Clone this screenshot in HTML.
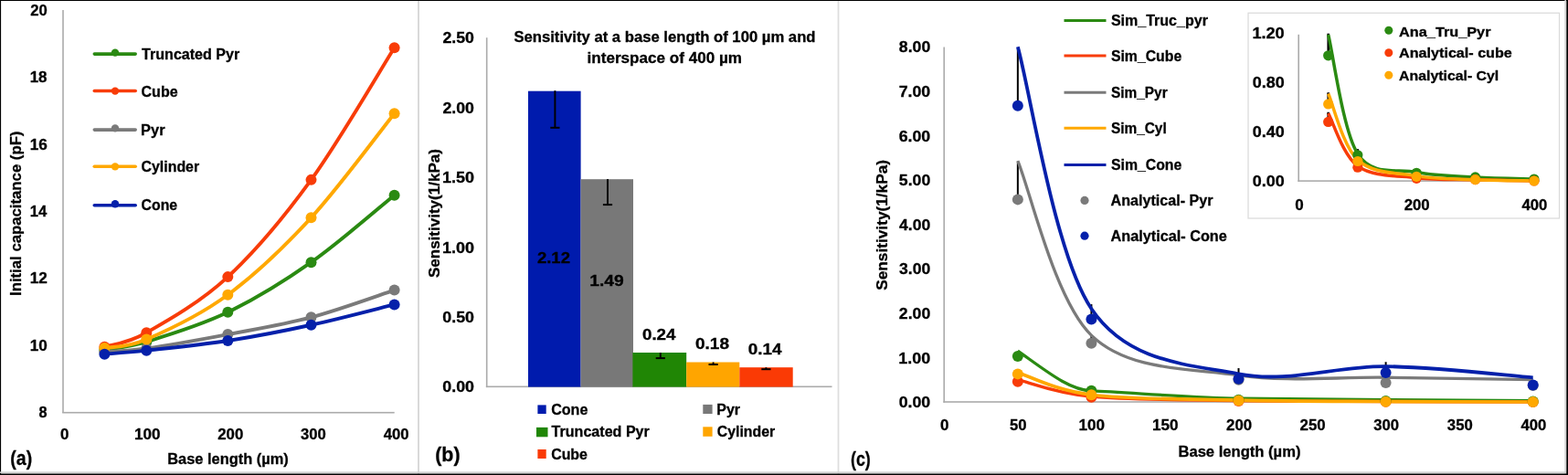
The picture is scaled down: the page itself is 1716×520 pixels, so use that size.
<!DOCTYPE html>
<html><head><meta charset="utf-8"><title>Figure</title>
<style>html,body{margin:0;padding:0;background:#fff;overflow:hidden;}svg{display:block;}
text{font-family:"Liberation Sans", sans-serif;stroke:#000;stroke-width:0.3px;}</style></head>
<body><svg width="1716" height="520" viewBox="0 0 1716 520">
<rect width="1716" height="520" fill="#fff"/>
<rect x="68.20" y="11.00" width="1.60" height="441.00" fill="#ABABAB"/>
<rect x="68.20" y="450.90" width="363.50" height="1.60" fill="#ABABAB"/>
<text x="42.56" y="457.20" font-size="16.00" font-weight="bold" fill="#000" textLength="9.06" lengthAdjust="spacingAndGlyphs">8</text>
<text x="32.67" y="383.80" font-size="16.00" font-weight="bold" fill="#000" textLength="19.08" lengthAdjust="spacingAndGlyphs">10</text>
<text x="32.67" y="310.40" font-size="16.00" font-weight="bold" fill="#000" textLength="19.08" lengthAdjust="spacingAndGlyphs">12</text>
<text x="32.70" y="237.00" font-size="16.00" font-weight="bold" fill="#000" textLength="18.54" lengthAdjust="spacingAndGlyphs">14</text>
<text x="32.67" y="163.60" font-size="16.00" font-weight="bold" fill="#000" textLength="19.08" lengthAdjust="spacingAndGlyphs">16</text>
<text x="32.68" y="90.20" font-size="16.00" font-weight="bold" fill="#000" textLength="18.90" lengthAdjust="spacingAndGlyphs">18</text>
<text x="33.20" y="16.80" font-size="16.00" font-weight="bold" fill="#000" textLength="18.54" lengthAdjust="spacingAndGlyphs">20</text>
<text x="66.00" y="481.10" font-size="16.00" font-weight="bold" fill="#000" textLength="9.44" lengthAdjust="spacingAndGlyphs">0</text>
<text x="147.00" y="481.10" font-size="16.00" font-weight="bold" fill="#000" textLength="28.53" lengthAdjust="spacingAndGlyphs">100</text>
<text x="238.22" y="481.10" font-size="16.00" font-weight="bold" fill="#000" textLength="28.00" lengthAdjust="spacingAndGlyphs">200</text>
<text x="329.09" y="481.10" font-size="16.00" font-weight="bold" fill="#000" textLength="27.82" lengthAdjust="spacingAndGlyphs">300</text>
<text x="419.79" y="481.10" font-size="16.00" font-weight="bold" fill="#000" textLength="27.82" lengthAdjust="spacingAndGlyphs">400</text>
<text x="183.25" y="507.90" font-size="16.00" font-weight="bold" fill="#000" textLength="132.48" lengthAdjust="spacingAndGlyphs">Base length (µm)</text>
<text transform="translate(22.70,323.97) rotate(-90)" font-size="16.00" font-weight="bold" textLength="180.40" lengthAdjust="spacingAndGlyphs">Initial capacitance (pF)</text>
<text x="11.32" y="508.60" font-size="22.00" font-weight="bold" fill="#000" textLength="23.90" lengthAdjust="spacingAndGlyphs">(a)</text>
<path d="M114.40,382.94 C122.05,381.47 137.82,380.98 160.30,374.13 C182.78,367.28 219.27,356.33 249.30,341.83 C279.33,327.34 310.12,308.50 340.50,287.15 C370.88,265.80 416.42,225.98 431.60,213.75" fill="none" stroke="#2A8A12" stroke-width="3.9" stroke-linejoin="round"/>
<circle cx="114.40" cy="382.94" r="6.00" fill="#2A8A12"/>
<circle cx="160.30" cy="374.13" r="6.00" fill="#2A8A12"/>
<circle cx="249.30" cy="341.83" r="6.00" fill="#2A8A12"/>
<circle cx="340.50" cy="287.15" r="6.00" fill="#2A8A12"/>
<circle cx="431.60" cy="213.75" r="6.00" fill="#2A8A12"/>
<path d="M114.40,379.63 C122.05,377.07 137.82,376.97 160.30,364.22 C182.78,351.47 219.27,331.01 249.30,303.12 C279.33,275.22 310.12,238.68 340.50,196.87 C370.88,155.06 416.42,76.37 431.60,52.27" fill="none" stroke="#F83C08" stroke-width="3.9" stroke-linejoin="round"/>
<circle cx="114.40" cy="379.63" r="6.00" fill="#F83C08"/>
<circle cx="160.30" cy="364.22" r="6.00" fill="#F83C08"/>
<circle cx="249.30" cy="303.12" r="6.00" fill="#F83C08"/>
<circle cx="340.50" cy="196.87" r="6.00" fill="#F83C08"/>
<circle cx="431.60" cy="52.27" r="6.00" fill="#F83C08"/>
<path d="M114.40,385.14 C122.05,384.53 137.82,384.65 160.30,381.47 C182.78,378.29 219.27,371.74 249.30,366.06 C279.33,360.37 310.12,355.41 340.50,347.34 C370.88,339.26 416.42,322.57 431.60,317.61" fill="none" stroke="#7A7A7A" stroke-width="3.9" stroke-linejoin="round"/>
<circle cx="114.40" cy="385.14" r="6.00" fill="#7A7A7A"/>
<circle cx="160.30" cy="381.47" r="6.00" fill="#7A7A7A"/>
<circle cx="249.30" cy="366.06" r="6.00" fill="#7A7A7A"/>
<circle cx="340.50" cy="347.34" r="6.00" fill="#7A7A7A"/>
<circle cx="431.60" cy="317.61" r="6.00" fill="#7A7A7A"/>
<path d="M114.40,381.10 C122.05,379.51 137.82,381.29 160.30,371.56 C182.78,361.84 219.27,344.95 249.30,322.75 C279.33,300.55 310.12,271.43 340.50,238.34 C370.88,205.25 416.42,143.23 431.60,124.20" fill="none" stroke="#FFA800" stroke-width="3.9" stroke-linejoin="round"/>
<circle cx="114.40" cy="381.10" r="6.00" fill="#FFA800"/>
<circle cx="160.30" cy="371.56" r="6.00" fill="#FFA800"/>
<circle cx="249.30" cy="322.75" r="6.00" fill="#FFA800"/>
<circle cx="340.50" cy="238.34" r="6.00" fill="#FFA800"/>
<circle cx="431.60" cy="124.20" r="6.00" fill="#FFA800"/>
<path d="M114.40,387.71 C122.05,387.04 137.82,386.12 160.30,383.67 C182.78,381.23 219.27,377.68 249.30,373.03 C279.33,368.38 310.12,362.39 340.50,355.78 C370.88,349.17 416.42,337.12 431.60,333.39" fill="none" stroke="#0520AA" stroke-width="3.9" stroke-linejoin="round"/>
<circle cx="114.40" cy="387.71" r="6.00" fill="#0520AA"/>
<circle cx="160.30" cy="383.67" r="6.00" fill="#0520AA"/>
<circle cx="249.30" cy="373.03" r="6.00" fill="#0520AA"/>
<circle cx="340.50" cy="355.78" r="6.00" fill="#0520AA"/>
<circle cx="431.60" cy="333.39" r="6.00" fill="#0520AA"/>
<line x1="103.30" y1="59.10" x2="148.20" y2="59.10" stroke="#2A8A12" stroke-width="3.60" stroke-linecap="round"/>
<circle cx="126.00" cy="57.60" r="4.20" fill="#2A8A12"/>
<text x="155.04" y="65.10" font-size="16.00" font-weight="bold" fill="#000" textLength="107.26" lengthAdjust="spacingAndGlyphs">Truncated Pyr</text>
<line x1="103.30" y1="99.50" x2="148.20" y2="99.50" stroke="#F83C08" stroke-width="3.60" stroke-linecap="round"/>
<circle cx="126.00" cy="99.60" r="4.20" fill="#F83C08"/>
<text x="154.56" y="105.80" font-size="16.00" font-weight="bold" fill="#000" textLength="40.08" lengthAdjust="spacingAndGlyphs">Cube</text>
<line x1="103.30" y1="142.10" x2="148.20" y2="142.10" stroke="#7A7A7A" stroke-width="3.60" stroke-linecap="round"/>
<circle cx="126.00" cy="140.40" r="4.20" fill="#7A7A7A"/>
<text x="154.05" y="147.50" font-size="16.00" font-weight="bold" fill="#000" textLength="26.52" lengthAdjust="spacingAndGlyphs">Pyr</text>
<line x1="103.30" y1="182.20" x2="148.20" y2="182.20" stroke="#FFA800" stroke-width="3.60" stroke-linecap="round"/>
<circle cx="126.00" cy="182.40" r="4.20" fill="#FFA800"/>
<text x="154.56" y="188.30" font-size="16.00" font-weight="bold" fill="#000" textLength="63.57" lengthAdjust="spacingAndGlyphs">Cylinder</text>
<line x1="103.30" y1="224.70" x2="148.20" y2="224.70" stroke="#0520AA" stroke-width="3.60" stroke-linecap="round"/>
<circle cx="126.00" cy="223.20" r="4.20" fill="#0520AA"/>
<text x="154.57" y="230.20" font-size="16.00" font-weight="bold" fill="#000" textLength="39.56" lengthAdjust="spacingAndGlyphs">Cone</text>
<rect x="457.00" y="0.00" width="2.00" height="520.00" fill="#D9D9D9"/>
<rect x="916.60" y="0.00" width="1.80" height="520.00" fill="#DEDEDE"/>
<rect x="531.90" y="41.20" width="1.60" height="382.90" fill="#ABABAB"/>
<rect x="531.90" y="422.50" width="378.60" height="1.60" fill="#ABABAB"/>
<text x="484.29" y="429.30" font-size="16.00" font-weight="bold" fill="#000" textLength="34.66" lengthAdjust="spacingAndGlyphs">0.00</text>
<text x="484.29" y="352.90" font-size="16.00" font-weight="bold" fill="#000" textLength="34.66" lengthAdjust="spacingAndGlyphs">0.50</text>
<text x="483.92" y="276.50" font-size="16.00" font-weight="bold" fill="#000" textLength="35.03" lengthAdjust="spacingAndGlyphs">1.00</text>
<text x="483.92" y="200.10" font-size="16.00" font-weight="bold" fill="#000" textLength="35.03" lengthAdjust="spacingAndGlyphs">1.50</text>
<text x="484.47" y="123.70" font-size="16.00" font-weight="bold" fill="#000" textLength="34.47" lengthAdjust="spacingAndGlyphs">2.00</text>
<text x="484.47" y="47.30" font-size="16.00" font-weight="bold" fill="#000" textLength="34.47" lengthAdjust="spacingAndGlyphs">2.50</text>
<rect x="578.00" y="99.70" width="57.60" height="323.90" fill="#001BAD"/>
<rect x="635.60" y="196.20" width="57.40" height="227.40" fill="#787878"/>
<rect x="692.40" y="386.00" width="58.80" height="37.60" fill="#208605"/>
<rect x="751.20" y="396.50" width="58.10" height="27.10" fill="#FFA500"/>
<rect x="809.30" y="402.20" width="58.40" height="21.40" fill="#FA3A05"/>
<line x1="607.40" y1="99.20" x2="607.40" y2="139.80" stroke="#000" stroke-width="1.90"/>
<line x1="602.30" y1="139.80" x2="612.50" y2="139.80" stroke="#000" stroke-width="2.00"/>
<line x1="665.00" y1="196.00" x2="665.00" y2="224.10" stroke="#000" stroke-width="1.90"/>
<line x1="659.90" y1="224.10" x2="670.10" y2="224.10" stroke="#000" stroke-width="2.00"/>
<line x1="722.80" y1="386.00" x2="722.80" y2="392.10" stroke="#000" stroke-width="1.90"/>
<line x1="717.70" y1="392.10" x2="727.90" y2="392.10" stroke="#000" stroke-width="2.00"/>
<line x1="780.60" y1="396.50" x2="780.60" y2="399.00" stroke="#000" stroke-width="1.90"/>
<line x1="775.50" y1="399.00" x2="785.70" y2="399.00" stroke="#000" stroke-width="2.00"/>
<line x1="838.40" y1="402.20" x2="838.40" y2="404.20" stroke="#000" stroke-width="1.90"/>
<line x1="833.30" y1="404.20" x2="843.50" y2="404.20" stroke="#000" stroke-width="2.00"/>
<text x="587.94" y="287.70" font-size="16.00" font-weight="bold" fill="#000" textLength="36.02" lengthAdjust="spacingAndGlyphs">2.12</text>
<text x="645.25" y="312.60" font-size="16.00" font-weight="bold" fill="#000" textLength="37.45" lengthAdjust="spacingAndGlyphs">1.49</text>
<text x="702.95" y="371.90" font-size="16.00" font-weight="bold" fill="#000" textLength="36.57" lengthAdjust="spacingAndGlyphs">0.24</text>
<text x="760.94" y="381.70" font-size="16.00" font-weight="bold" fill="#000" textLength="37.06" lengthAdjust="spacingAndGlyphs">0.18</text>
<text x="818.85" y="387.50" font-size="16.00" font-weight="bold" fill="#000" textLength="36.67" lengthAdjust="spacingAndGlyphs">0.14</text>
<text x="562.40" y="45.60" font-size="16.00" font-weight="bold" fill="#000" textLength="330.11" lengthAdjust="spacingAndGlyphs">Sensitivity at a base length of 100 µm and</text>
<text x="642.60" y="69.40" font-size="16.00" font-weight="bold" fill="#000" textLength="169.37" lengthAdjust="spacingAndGlyphs">interspace of 400 µm</text>
<text transform="translate(480.60,304.11) rotate(-90)" font-size="16.50" font-weight="bold" textLength="141.07" lengthAdjust="spacingAndGlyphs">Sensitivity(1/kPa)</text>
<rect x="588.40" y="443.40" width="9.30" height="9.60" fill="#001BAD"/>
<text x="603.16" y="454.00" font-size="16.00" font-weight="bold" fill="#000" textLength="40.18" lengthAdjust="spacingAndGlyphs">Cone</text>
<rect x="587.00" y="467.90" width="12.50" height="10.40" fill="#208605"/>
<text x="603.64" y="478.30" font-size="16.00" font-weight="bold" fill="#000" textLength="107.16" lengthAdjust="spacingAndGlyphs">Truncated Pyr</text>
<rect x="588.40" y="492.00" width="9.30" height="10.00" fill="#FA3A05"/>
<text x="603.16" y="502.50" font-size="16.00" font-weight="bold" fill="#000" textLength="39.77" lengthAdjust="spacingAndGlyphs">Cube</text>
<rect x="769.30" y="442.90" width="10.30" height="10.10" fill="#787878"/>
<text x="784.28" y="454.00" font-size="16.00" font-weight="bold" fill="#000" textLength="25.78" lengthAdjust="spacingAndGlyphs">Pyr</text>
<rect x="769.30" y="467.30" width="10.30" height="10.50" fill="#FFA500"/>
<text x="784.77" y="478.40" font-size="16.00" font-weight="bold" fill="#000" textLength="63.36" lengthAdjust="spacingAndGlyphs">Cylinder</text>
<text x="476.23" y="504.80" font-size="22.40" font-weight="bold" fill="#000" textLength="27.28" lengthAdjust="spacingAndGlyphs">(b)</text>
<rect x="1032.40" y="51.50" width="1.60" height="389.30" fill="#ABABAB"/>
<rect x="1032.40" y="439.20" width="647.00" height="1.60" fill="#ABABAB"/>
<text x="983.69" y="446.20" font-size="16.00" font-weight="bold" fill="#000" textLength="34.55" lengthAdjust="spacingAndGlyphs">0.00</text>
<text x="983.32" y="397.60" font-size="16.00" font-weight="bold" fill="#000" textLength="34.92" lengthAdjust="spacingAndGlyphs">1.00</text>
<text x="983.87" y="349.00" font-size="16.00" font-weight="bold" fill="#000" textLength="34.37" lengthAdjust="spacingAndGlyphs">2.00</text>
<text x="984.05" y="300.40" font-size="16.00" font-weight="bold" fill="#000" textLength="34.19" lengthAdjust="spacingAndGlyphs">3.00</text>
<text x="984.05" y="251.80" font-size="16.00" font-weight="bold" fill="#000" textLength="34.19" lengthAdjust="spacingAndGlyphs">4.00</text>
<text x="983.87" y="203.20" font-size="16.00" font-weight="bold" fill="#000" textLength="34.37" lengthAdjust="spacingAndGlyphs">5.00</text>
<text x="983.69" y="154.60" font-size="16.00" font-weight="bold" fill="#000" textLength="34.55" lengthAdjust="spacingAndGlyphs">6.00</text>
<text x="983.69" y="106.00" font-size="16.00" font-weight="bold" fill="#000" textLength="34.55" lengthAdjust="spacingAndGlyphs">7.00</text>
<text x="983.87" y="57.40" font-size="16.00" font-weight="bold" fill="#000" textLength="34.37" lengthAdjust="spacingAndGlyphs">8.00</text>
<text x="1029.05" y="471.20" font-size="16.00" font-weight="bold" fill="#000" textLength="9.44" lengthAdjust="spacingAndGlyphs">0</text>
<text x="1105.10" y="471.20" font-size="16.00" font-weight="bold" fill="#000" textLength="18.54" lengthAdjust="spacingAndGlyphs">50</text>
<text x="1180.45" y="471.20" font-size="16.00" font-weight="bold" fill="#000" textLength="28.53" lengthAdjust="spacingAndGlyphs">100</text>
<text x="1261.00" y="471.20" font-size="16.00" font-weight="bold" fill="#000" textLength="28.53" lengthAdjust="spacingAndGlyphs">150</text>
<text x="1342.07" y="471.20" font-size="16.00" font-weight="bold" fill="#000" textLength="28.00" lengthAdjust="spacingAndGlyphs">200</text>
<text x="1422.62" y="471.20" font-size="16.00" font-weight="bold" fill="#000" textLength="28.00" lengthAdjust="spacingAndGlyphs">250</text>
<text x="1503.34" y="471.20" font-size="16.00" font-weight="bold" fill="#000" textLength="27.82" lengthAdjust="spacingAndGlyphs">300</text>
<text x="1583.89" y="471.20" font-size="16.00" font-weight="bold" fill="#000" textLength="27.82" lengthAdjust="spacingAndGlyphs">350</text>
<text x="1664.44" y="471.20" font-size="16.00" font-weight="bold" fill="#000" textLength="27.82" lengthAdjust="spacingAndGlyphs">400</text>
<text x="1289.44" y="499.80" font-size="16.00" font-weight="bold" fill="#000" textLength="134.00" lengthAdjust="spacingAndGlyphs">Base length (µm)</text>
<text transform="translate(971.20,317.82) rotate(-90)" font-size="16.50" font-weight="bold" textLength="142.89" lengthAdjust="spacingAndGlyphs">Sensitivity(1/kPa)</text>
<text x="931.01" y="509.80" font-size="22.00" font-weight="bold" fill="#000" textLength="21.82" lengthAdjust="spacingAndGlyphs">(c)</text>
<line x1="1113.85" y1="117.78" x2="1113.85" y2="53.63" stroke="#000" stroke-width="2.00"/>
<line x1="1113.85" y1="218.38" x2="1113.85" y2="176.59" stroke="#000" stroke-width="2.00"/>
<line x1="1194.40" y1="349.60" x2="1194.40" y2="333.08" stroke="#000" stroke-width="2.00"/>
<line x1="1194.40" y1="375.85" x2="1194.40" y2="367.10" stroke="#000" stroke-width="2.00"/>
<line x1="1355.50" y1="414.73" x2="1355.50" y2="403.06" stroke="#000" stroke-width="2.00"/>
<line x1="1516.60" y1="407.92" x2="1516.60" y2="396.26" stroke="#000" stroke-width="2.00"/>
<path d="M1113.85,384.11 C1146.07,406.95 1170.23,426.88 1194.40,427.85 C1234.67,429.45 1307.17,435.87 1355.50,436.11 C1408.66,436.36 1463.44,437.33 1516.60,437.57 C1569.76,437.81 1624.54,438.30 1677.70,438.54" fill="none" stroke="#2A8A12" stroke-width="3.3"/>
<path d="M1113.85,415.70 C1127.27,418.78 1154.12,430.36 1194.40,434.17 C1234.67,437.98 1301.80,437.65 1355.50,438.54 C1409.20,439.43 1462.90,439.27 1516.60,439.51 C1570.30,439.76 1650.85,439.92 1677.70,440.00" fill="none" stroke="#F83C08" stroke-width="3.4"/>
<path d="M1113.85,407.92 C1127.27,411.97 1154.12,427.20 1194.40,432.22 C1234.67,437.25 1301.80,436.84 1355.50,438.06 C1409.20,439.27 1462.90,439.19 1516.60,439.51 C1570.30,439.84 1650.85,439.92 1677.70,440.00" fill="none" stroke="#FFA800" stroke-width="3.7"/>
<circle cx="1113.85" cy="417.64" r="6.00" fill="#F83C08"/>
<circle cx="1194.40" cy="434.65" r="6.00" fill="#F83C08"/>
<circle cx="1355.50" cy="439.03" r="6.00" fill="#F83C08"/>
<circle cx="1516.60" cy="439.76" r="6.00" fill="#F83C08"/>
<circle cx="1677.70" cy="440.00" r="6.00" fill="#F83C08"/>
<circle cx="1113.85" cy="389.94" r="6.00" fill="#2A8A12"/>
<circle cx="1194.40" cy="427.85" r="6.00" fill="#2A8A12"/>
<circle cx="1355.50" cy="437.81" r="6.00" fill="#2A8A12"/>
<circle cx="1516.60" cy="439.03" r="6.00" fill="#2A8A12"/>
<circle cx="1677.70" cy="439.51" r="6.00" fill="#2A8A12"/>
<circle cx="1113.85" cy="409.38" r="6.00" fill="#FFA800"/>
<circle cx="1194.40" cy="432.22" r="6.00" fill="#FFA800"/>
<circle cx="1355.50" cy="438.54" r="6.00" fill="#FFA800"/>
<circle cx="1516.60" cy="439.76" r="6.00" fill="#FFA800"/>
<circle cx="1677.70" cy="440.00" r="6.00" fill="#FFA800"/>
<path d="M1113.85,176.10 C1127.27,207.94 1154.12,327.98 1194.40,367.10 C1234.67,406.22 1301.80,403.14 1355.50,410.84 C1409.20,418.53 1462.90,412.46 1516.60,413.27 C1570.30,414.08 1650.85,415.29 1677.70,415.70" fill="none" stroke="#7A7A7A" stroke-width="3.3"/>
<path d="M1113.85,51.20 C1127.27,98.99 1154.12,278.24 1194.40,337.94 C1234.67,397.64 1301.80,398.85 1355.50,409.38 C1409.20,419.91 1462.90,400.47 1516.60,401.12 C1570.30,401.77 1650.85,411.25 1677.70,413.27" fill="none" stroke="#0520AA" stroke-width="3.8"/>
<circle cx="1113.85" cy="218.38" r="6.00" fill="#7A7A7A"/>
<circle cx="1194.40" cy="375.85" r="6.00" fill="#7A7A7A"/>
<circle cx="1355.50" cy="415.70" r="6.00" fill="#7A7A7A"/>
<circle cx="1516.60" cy="419.10" r="6.00" fill="#7A7A7A"/>
<circle cx="1677.70" cy="422.02" r="6.00" fill="#7A7A7A"/>
<circle cx="1113.85" cy="115.84" r="6.00" fill="#0520AA"/>
<circle cx="1194.40" cy="349.60" r="6.00" fill="#0520AA"/>
<circle cx="1355.50" cy="414.73" r="6.00" fill="#0520AA"/>
<circle cx="1516.60" cy="407.92" r="6.00" fill="#0520AA"/>
<circle cx="1677.70" cy="421.53" r="6.00" fill="#0520AA"/>
<line x1="1164.50" y1="22.40" x2="1210.50" y2="22.40" stroke="#2A8A12" stroke-width="3.00"/>
<text x="1215.92" y="28.00" font-size="16.00" font-weight="bold" fill="#000" textLength="105.97" lengthAdjust="spacingAndGlyphs">Sim_Truc_pyr</text>
<line x1="1164.50" y1="61.10" x2="1210.50" y2="61.10" stroke="#F83C08" stroke-width="3.00"/>
<text x="1215.93" y="66.70" font-size="16.00" font-weight="bold" fill="#000" textLength="77.31" lengthAdjust="spacingAndGlyphs">Sim_Cube</text>
<line x1="1164.50" y1="101.30" x2="1210.50" y2="101.30" stroke="#7A7A7A" stroke-width="3.00"/>
<text x="1215.94" y="106.90" font-size="16.00" font-weight="bold" fill="#000" textLength="61.71" lengthAdjust="spacingAndGlyphs">Sim_Pyr</text>
<line x1="1164.50" y1="140.30" x2="1210.50" y2="140.30" stroke="#FFA800" stroke-width="3.00"/>
<text x="1215.94" y="145.90" font-size="16.00" font-weight="bold" fill="#000" textLength="60.78" lengthAdjust="spacingAndGlyphs">Sim_Cyl</text>
<line x1="1164.50" y1="180.50" x2="1210.50" y2="180.50" stroke="#0520AA" stroke-width="3.00"/>
<text x="1215.93" y="186.10" font-size="16.00" font-weight="bold" fill="#000" textLength="77.41" lengthAdjust="spacingAndGlyphs">Sim_Cone</text>
<circle cx="1187.00" cy="219.40" r="4.60" fill="#7A7A7A"/>
<text x="1215.62" y="225.10" font-size="16.00" font-weight="bold" fill="#000" textLength="111.96" lengthAdjust="spacingAndGlyphs">Analytical- Pyr</text>
<circle cx="1187.00" cy="258.20" r="4.60" fill="#0520AA"/>
<text x="1215.61" y="264.00" font-size="16.00" font-weight="bold" fill="#000" textLength="127.14" lengthAdjust="spacingAndGlyphs">Analytical- Cone</text>
<rect x="1366" y="14.2" width="340.5" height="224.8" fill="#fff" stroke="#D9D9D9" stroke-width="1.2"/>
<rect x="1420.40" y="37.80" width="1.60" height="161.00" fill="#ABABAB"/>
<rect x="1420.40" y="197.30" width="264.50" height="1.60" fill="#ABABAB"/>
<text x="1370.78" y="203.80" font-size="16.00" font-weight="bold" fill="#000" textLength="34.86" lengthAdjust="spacingAndGlyphs">0.00</text>
<text x="1370.78" y="150.00" font-size="16.00" font-weight="bold" fill="#000" textLength="34.86" lengthAdjust="spacingAndGlyphs">0.40</text>
<text x="1370.78" y="96.20" font-size="16.00" font-weight="bold" fill="#000" textLength="34.86" lengthAdjust="spacingAndGlyphs">0.80</text>
<text x="1370.41" y="42.40" font-size="16.00" font-weight="bold" fill="#000" textLength="35.24" lengthAdjust="spacingAndGlyphs">1.20</text>
<text x="1417.15" y="230.00" font-size="16.00" font-weight="bold" fill="#000" textLength="9.44" lengthAdjust="spacingAndGlyphs">0</text>
<text x="1536.67" y="230.00" font-size="16.00" font-weight="bold" fill="#000" textLength="28.00" lengthAdjust="spacingAndGlyphs">200</text>
<text x="1665.54" y="230.00" font-size="16.00" font-weight="bold" fill="#000" textLength="27.82" lengthAdjust="spacingAndGlyphs">400</text>
<line x1="1453.67" y1="60.81" x2="1453.67" y2="37.94" stroke="#000" stroke-width="2.50"/>
<line x1="1452.38" y1="37.94" x2="1454.97" y2="37.94" stroke="#000" stroke-width="2.50"/>
<line x1="1453.67" y1="113.94" x2="1453.67" y2="102.51" stroke="#000" stroke-width="2.50"/>
<line x1="1452.38" y1="102.51" x2="1454.97" y2="102.51" stroke="#000" stroke-width="2.50"/>
<line x1="1453.67" y1="133.44" x2="1453.67" y2="124.02" stroke="#000" stroke-width="2.50"/>
<line x1="1452.38" y1="124.02" x2="1454.97" y2="124.02" stroke="#000" stroke-width="2.50"/>
<line x1="1485.85" y1="169.75" x2="1485.85" y2="164.38" stroke="#000" stroke-width="2.50"/>
<line x1="1484.55" y1="164.38" x2="1487.15" y2="164.38" stroke="#000" stroke-width="2.50"/>
<path d="M1453.67,37.94 C1459.04,59.69 1469.76,143.30 1485.85,168.41 C1501.94,193.52 1528.75,184.33 1550.20,188.59 C1571.65,192.84 1593.10,192.73 1614.55,193.97 C1636.00,195.20 1668.18,195.65 1678.90,195.98" fill="none" stroke="#2A8A12" stroke-width="3.5"/>
<path d="M1453.67,124.02 C1459.04,133.66 1469.76,170.09 1485.85,181.86 C1501.94,193.63 1528.75,192.17 1550.20,194.64 C1571.65,197.10 1593.10,196.09 1614.55,196.66 C1636.00,197.22 1668.18,197.78 1678.90,198.00" fill="none" stroke="#F83C08" stroke-width="3.5"/>
<path d="M1453.67,102.51 C1459.04,114.61 1469.76,160.12 1485.85,175.13 C1501.94,190.15 1528.75,189.03 1550.20,192.62 C1571.65,196.21 1593.10,195.76 1614.55,196.66 C1636.00,197.55 1668.18,197.78 1678.90,198.00" fill="none" stroke="#FFA800" stroke-width="3.5"/>
<circle cx="1453.67" cy="60.81" r="5.60" fill="#2A8A12"/>
<circle cx="1485.85" cy="169.75" r="5.60" fill="#2A8A12"/>
<circle cx="1550.20" cy="189.26" r="5.60" fill="#2A8A12"/>
<circle cx="1614.55" cy="193.97" r="5.60" fill="#2A8A12"/>
<circle cx="1678.90" cy="195.98" r="5.60" fill="#2A8A12"/>
<circle cx="1453.67" cy="133.44" r="5.60" fill="#F83C08"/>
<circle cx="1485.85" cy="183.21" r="5.60" fill="#F83C08"/>
<circle cx="1550.20" cy="195.31" r="5.60" fill="#F83C08"/>
<circle cx="1614.55" cy="196.66" r="5.60" fill="#F83C08"/>
<circle cx="1678.90" cy="198.00" r="5.60" fill="#F83C08"/>
<circle cx="1453.67" cy="113.94" r="5.60" fill="#FFA800"/>
<circle cx="1485.85" cy="176.48" r="5.60" fill="#FFA800"/>
<circle cx="1550.20" cy="193.29" r="5.60" fill="#FFA800"/>
<circle cx="1614.55" cy="196.66" r="5.60" fill="#FFA800"/>
<circle cx="1678.90" cy="198.00" r="5.60" fill="#FFA800"/>
<circle cx="1519.80" cy="33.30" r="4.50" fill="#2A8A12"/>
<text x="1531.11" y="39.50" font-size="14.00" font-weight="bold" fill="#000" textLength="100.40" lengthAdjust="spacingAndGlyphs">Ana_Tru_Pyr</text>
<circle cx="1519.80" cy="57.80" r="4.50" fill="#F83C08"/>
<text x="1531.12" y="63.30" font-size="14.00" font-weight="bold" fill="#000" textLength="123.70" lengthAdjust="spacingAndGlyphs">Analytical- cube</text>
<circle cx="1519.80" cy="82.30" r="4.50" fill="#FFA800"/>
<text x="1531.13" y="87.80" font-size="14.00" font-weight="bold" fill="#000" textLength="109.09" lengthAdjust="spacingAndGlyphs">Analytical- Cyl</text>
<rect x="0.00" y="0.00" width="1716.00" height="1.00" fill="#000"/>
<rect x="0.00" y="0.00" width="1.10" height="520.00" fill="#000"/>
<rect x="0.00" y="516.40" width="1716.00" height="1.50" fill="#D0D0D0"/>
<rect x="1712.40" y="0.00" width="1.50" height="520.00" fill="#D0D0D0"/>
<rect x="1714.30" y="0.00" width="1.70" height="520.00" fill="#000"/>
<rect x="0.00" y="518.50" width="1716.00" height="1.50" fill="#000"/>
</svg></body></html>
